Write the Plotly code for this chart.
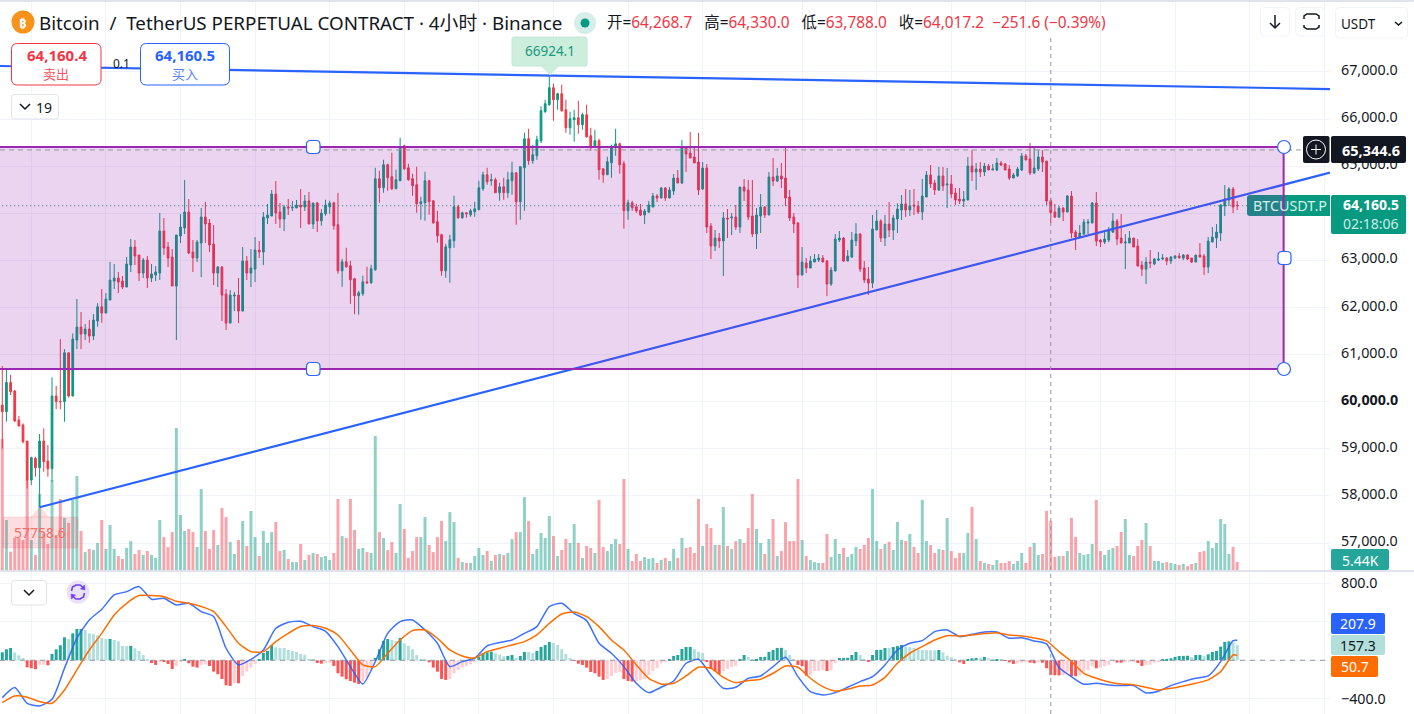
import plotly.graph_objects as go

W, H = 1414, 714

open_p = [
    59890, 59750, 60370, 60190, 59573, 59466, 59126, 58298, 58758, 58560, 59126, 58702, 58539, 60082, 59970, 59962, 61001, 60082, 61270, 61546,
    61398, 61504, 61355, 61674, 61978, 61844, 62120, 62523, 62587, 62523, 62396, 62863, 63245, 63076, 62693, 62970, 62587, 62651, 62693, 63585,
    63245, 63033, 62417, 63479, 63649, 63989, 63139, 63012, 63330, 63883, 63755, 63309, 62693, 62821, 62247, 61631, 62205, 62226, 61886, 62948,
    62693, 62778, 63182, 63139, 63861, 63904, 64371, 63989, 63840, 64095, 64074, 64074, 64138, 64095, 64223, 63734, 64180, 63803, 63951, 64100,
    64185, 63718, 62741, 62932, 62847, 62571, 62210, 62252, 62507, 62486, 62762, 64695, 64504, 64992, 64737, 64482, 64652, 65396, 64928, 64695,
    64567, 64164, 64185, 64652, 64228, 63782, 63505, 62741, 63229, 63378, 64100, 63866, 63973, 63930, 63994, 64036, 64482, 64780, 64652, 64674,
    64397, 64525, 64397, 64652, 64822, 64206, 64928, 65544, 65077, 65183, 65502, 66118, 66267, 66628, 66373, 66500, 66160, 65778, 65948, 65990,
    65842, 66054, 65608, 65374, 65502, 64907, 64780, 65035, 65374, 65438, 65013, 64015, 64185, 64100, 64031, 63925, 63989, 64095, 64329, 64286,
    64499, 64286, 64435, 64711, 64605, 65348, 65242, 65157, 65051, 64478, 64923, 63692, 63267, 63437, 63373, 63861, 63861, 63883, 63670, 64520,
    64456, 63904, 63522, 63904, 64095, 63925, 64732, 64647, 64754, 64711, 64307, 63883, 63755, 62651, 62906, 62800, 62927, 62970, 63012, 62948,
    62460, 62736, 63394, 63437, 62948, 63033, 63373, 63522, 62800, 62566, 62481, 63607, 63798, 63437, 63734, 63607, 63840, 64031, 64159, 64031,
    64138, 64116, 63989, 64307, 64775, 64605, 64456, 64754, 64562, 64584, 64393, 64265, 64222, 64243, 64965, 64838, 64902, 64838, 64965, 64880,
    64880, 65029, 65008, 64902, 64710, 64753, 64880, 65178, 65114, 64817, 64902, 65157, 65071, 64268.7, 63988, 63882, 64073, 63988, 64328, 63563,
    63457, 63521, 63755, 63755, 64180, 63393, 63351, 63393, 63563, 63797, 63436, 63330, 63330, 63436, 63266, 62862, 62777, 62926, 62884, 62969,
    62990, 63011, 62947, 63011, 63054, 63011, 63075, 63011, 62926, 63075, 63054, 62820, 63351, 63436, 63542, 64116, 64243, 64477, 64130,
]
high_p = [
    60720, 60640, 60530, 60210, 59658, 59502, 59126, 58794, 58794, 59275, 59396, 59042, 60479, 60295, 61291, 61079, 61001, 61412, 62141, 61865,
    61610, 61695, 61822, 62056, 62353, 62268, 62927, 62884, 62715, 62630, 63033, 63415, 63394, 63076, 63012, 63054, 62884, 62842, 63968, 63861,
    63352, 63203, 63500, 63946, 64669, 64265, 63394, 63394, 64074, 64201, 63840, 63713, 62842, 62842, 62353, 62332, 62290, 62587, 63245, 63054,
    63203, 63458, 63373, 63989, 64159, 64456, 64647, 64180, 64138, 64265, 64223, 64244, 64477, 64350, 64414, 64180, 64201, 64051, 64249, 64228,
    64206, 64397, 62996, 63229, 62953, 62592, 62316, 62634, 62826, 62868, 64928, 64865, 65098, 65013, 65247, 64886, 65566, 65417, 65013, 64801,
    64950, 64312, 64844, 64674, 64228, 64015, 63527, 63314, 63505, 64334, 64143, 63994, 63973, 64058, 64206, 64652, 64844, 64928, 64801, 64716,
    64610, 64716, 64844, 65056, 64822, 64950, 65672, 65757, 65417, 65608, 66231, 66373, 66924.1, 66713, 66521, 66691, 66373, 66118, 66160, 66352,
    66097, 66267, 65778, 65736, 65544, 64907, 65162, 65417, 65757, 65459, 65077, 64249, 64228, 64164, 64159, 64053, 64223, 64393, 64371, 64520,
    64520, 64520, 64796, 64881, 65518, 65348, 65688, 65348, 65667, 65051, 65008, 63755, 63607, 63543, 63989, 64053, 63968, 64138, 64520, 64690,
    64669, 64669, 64074, 64371, 64116, 64839, 65136, 64923, 65030, 65348, 64456, 63968, 63776, 63246, 63012, 63054, 63097, 63097, 63076, 62970,
    62821, 63522, 63585, 63458, 63182, 63564, 63755, 63543, 62948, 62821, 63925, 64031, 63834, 63925, 64201, 63925, 64173, 64350, 64477, 64456,
    64477, 64223, 64690, 64860, 64987, 64669, 64945, 64945, 64923, 64775, 64499, 64499, 64434, 65157, 65305, 65029, 65050, 65029, 65008, 65008,
    65135, 65071, 65029, 64987, 64817, 64944, 65241, 65220, 65454, 65348, 65305, 65305, 65071, 64330, 64158, 64116, 64095, 64349, 64434, 63606,
    63712, 63840, 63840, 64201, 64413, 63415, 63585, 63670, 63967, 63840, 63946, 63521, 63585, 63436, 63415, 62947, 63032, 63181, 63011, 63139,
    63096, 63032, 63054, 63075, 63117, 63096, 63096, 63011, 63075, 63330, 63096, 63457, 63670, 63733, 64158, 64562, 64519, 64519, 64222,
]
low_p = [
    58970, 59537, 60104, 59537, 59445, 59077, 58121, 58192, 58369, 57758.6, 58475, 58369, 58263, 59806, 59800, 59537, 60047, 60082, 61079, 61079,
    61270, 61214, 61270, 61553, 61638, 61844, 62120, 62353, 62268, 62353, 62396, 62715, 62863, 62523, 62587, 62375, 62502, 62523, 62545, 63076,
    62821, 62417, 61270, 63330, 63521, 63097, 62715, 62927, 62608, 63330, 63139, 62438, 62396, 61674, 61483, 61631, 61886, 61631, 61886, 62545,
    62396, 62502, 63012, 62863, 63734, 63904, 63734, 63649, 63585, 63925, 64010, 64074, 63649, 64010, 63734, 63628, 63564, 63697, 63909, 63951,
    63612, 62677, 62401, 62804, 62040, 61820, 61810, 62210, 62465, 62465, 62741, 64185, 64397, 64440, 64461, 64482, 64652, 64886, 64652, 64334,
    63973, 63824, 63803, 63930, 63739, 63336, 62634, 62592, 62486, 63229, 63845, 63845, 63866, 63888, 63888, 64036, 64440, 64567, 64546, 64397,
    64228, 64249, 64291, 64355, 63718, 63824, 64015, 64992, 65013, 65098, 65452, 66097, 66245, 65927, 66160, 66118, 65672, 65629, 65481, 65651,
    65736, 65566, 65290, 65374, 64674, 64610, 64780, 64716, 65183, 64801, 63633, 63824, 64015, 63973, 63904, 63734, 63968, 64095, 64201, 64286,
    64223, 64286, 64350, 64605, 64584, 64839, 65136, 65030, 64350, 64456, 63543, 62991, 63161, 63224, 62630, 63437, 63500, 63607, 63543, 64223,
    63819, 63458, 63203, 63543, 63862, 63925, 64541, 64626, 64499, 64116, 63798, 63543, 62375, 62651, 62693, 62800, 62927, 62927, 62927, 62205,
    62417, 62736, 63352, 62927, 62948, 63012, 63267, 62715, 62481, 62226, 62375, 63607, 63352, 63267, 63458, 63394, 63543, 63819, 63883, 63904,
    63925, 63946, 63819, 64307, 64499, 64350, 64435, 64435, 64074, 64286, 64138, 64159, 64095, 64243, 64647, 64456, 64732, 64753, 64880, 64880,
    64859, 64965, 64880, 64668, 64710, 64732, 64859, 65093, 64774, 64795, 64859, 64838, 64137, 63788, 63861, 63861, 63797, 63988, 63436, 63181,
    63436, 63500, 63521, 63755, 63266, 63245, 63309, 63351, 63542, 63287, 63330, 62778, 63330, 63245, 62841, 62629, 62459, 62799, 62862, 62947,
    62969, 62862, 62884, 62990, 63011, 62969, 62969, 62905, 62926, 63032, 62650, 62693, 63351, 63224, 63372, 63903, 64116, 63967, 64030,
]
close_p = [
    59750, 60370, 60174, 59551, 59445, 59112, 58298, 58773, 58560, 59126, 58688, 58539, 60082, 59962, 59962, 61001, 60082, 61291, 61546, 61398,
    61504, 61355, 61695, 61978, 61844, 62141, 62545, 62587, 62502, 62396, 62884, 63245, 63054, 62693, 62970, 62587, 62672, 62715, 63585, 63224,
    63012, 62417, 63500, 63670, 63989, 63118, 63012, 63352, 63883, 63734, 63288, 62693, 62821, 62226, 61631, 62226, 62226, 61886, 62948, 62693,
    62800, 63182, 63139, 63883, 63925, 64371, 63968, 63840, 64095, 64074, 64088, 64138, 64095, 64223, 63734, 64180, 63798, 63966, 64136, 64178,
    63697, 62741, 62932, 62826, 62550, 62210, 62273, 62507, 62486, 62783, 64695, 64504, 64992, 64716, 64482, 64674, 65374, 64907, 64674, 64546,
    64164, 64206, 64652, 64206, 63760, 63484, 62741, 63250, 63399, 64100, 63866, 63973, 63951, 64015, 64058, 64504, 64780, 64631, 64674, 64397,
    64525, 64397, 64674, 64822, 64206, 64950, 65544, 65077, 65205, 65523, 66139, 66288, 66628, 66373, 66500, 66139, 65778, 65969, 65990, 65842,
    66054, 65587, 65374, 65502, 64886, 64780, 65056, 65374, 65438, 64992, 64015, 64185, 64079, 64015, 63925, 64010, 64138, 64329, 64286, 64499,
    64286, 64456, 64711, 64605, 65370, 65221, 65136, 65030, 64456, 64923, 63670, 63267, 63437, 63373, 63861, 63840, 63883, 63670, 64520, 64435,
    63883, 63522, 63925, 64095, 63925, 64732, 64647, 64754, 64690, 64286, 63861, 63734, 62651, 62927, 62800, 62948, 62991, 63012, 62927, 62460,
    62757, 63416, 63437, 62948, 63054, 63394, 63522, 62778, 62545, 62481, 63628, 63798, 63437, 63734, 63607, 63861, 64053, 64159, 64031, 64116,
    64116, 63989, 64329, 64775, 64584, 64456, 64754, 64541, 64584, 64371, 64244, 64223, 64264, 64965, 64838, 64902, 64838, 64965, 64880, 64902,
    65029, 64987, 64880, 64710, 64774, 64902, 65178, 65093, 64817, 64923, 65157, 65050, 64222, 64017.2, 63882, 64073, 63988, 64328, 63542, 63457,
    63542, 63776, 63776, 64180, 63372, 63351, 63415, 63606, 63797, 63415, 63330, 63351, 63436, 63245, 62841, 62777, 62926, 62905, 62990, 62990,
    63011, 62947, 63032, 63054, 63011, 63075, 62990, 62926, 63075, 63032, 62820, 63372, 63457, 63563, 64137, 64264, 64477, 64095, 64160.5,
]
volume_k = [
    89.1, 34, 12.5, 21.8, 21.8, 20.4, 61.2, 20.4, 10.2, 51.7, 24.9, 17.7, 61.2, 23.8, 48.3, 35.4, 32, 47.6, 63.9, 26.5,
    12.2, 14.3, 13.6, 18.4, 34, 14.3, 30.6, 14.3, 9.5, 7.5, 15, 19.7, 10.9, 13.6, 10.2, 12.9, 10.2, 8.2, 34, 22.4,
    15.6, 25.8, 96.6, 37.4, 26.5, 27.9, 25.8, 15.6, 55.1, 26.5, 14.3, 27.2, 17, 42.2, 36, 19, 10.9, 20.4, 33.3, 16.3,
    40.1, 22.4, 9.5, 26.5, 18.4, 25.8, 32.6, 12.9, 13.6, 7.5, 5.4, 5.4, 17.7, 6.8, 10.2, 11.6, 10.9,
    8.8, 9.5, 6.8, 11.6, 48.3, 23.1, 21.8, 48.3, 27.2, 14.3, 15, 12.2, 11.6, 91.1, 25.8, 21.8, 13.6, 19, 11.6, 44.9,
    27.9, 8.2, 12.9, 22.4, 22.4, 36, 17, 12.2, 22.4, 33.3, 19.7, 39.4, 32.6, 8.2, 5.4, 4.8, 4.8, 9.5, 15, 10.2,
    12.9, 6.1, 10.2, 10.9, 10.2, 11.6, 21.1, 25.8, 25.8, 49.6, 33.3, 10.9, 14.3, 25.2, 21.8, 36.7, 23.1, 9.5, 13.6, 21.1,
    18.4, 31.3, 18.4, 8.2, 16.3, 15, 11.6, 47.6, 15.6, 12.9, 17.7, 21.1, 17.7, 61.9, 14.3, 6.1, 10.9, 6.1, 8.8, 7.5,
    8.2, 4.8, 6.8, 8.2, 6.1, 14.3, 8.2, 21.8, 15, 15.6, 11.6, 48.3, 16.3, 31.3, 28.6, 17, 17, 42.8, 16.3, 14.3,
    19.7, 21.1, 18.4, 28.6, 51.7, 27.9, 18.4, 10.9, 21.1, 34.7, 9.5, 12.9, 32.6, 19.7, 19.7, 61.9,
    20.4, 9.5, 6.8, 5.4, 4.8, 4.8, 24.5, 8.9, 21.1, 10.9, 15, 8.9, 10.9, 15.7, 14.3, 17, 21.8, 55.2, 19.7, 14.3,
    17.7, 19.1, 13.6, 32.7, 20.4, 19.7, 24.5, 15.7, 11.6, 47.7, 19.7, 17, 11.6, 14.3, 13.6, 35.4, 12.9, 8.2, 11.6, 11.6,
    25.2, 42.9, 21.1, 6.1, 4.8, 4.1, 3.4, 6.8, 4.8, 4.8, 6.1, 4.1, 6.1, 11.6, 4.8, 15.7, 18.4, 10.2, 10.9, 40.2,
    33.4, 8.9, 9.5, 9.5, 12.9, 35.4, 22.5, 11.6, 10.2, 10.9, 17.7, 47.7, 12.9, 10.2, 13.6, 15, 16.3, 25.9, 34.7, 10.2,
    9.5, 16.3, 20.4, 32, 16.3, 6.1, 6.1, 4.8, 5.4, 4.8, 4.1, 3.4, 4.1, 2.7, 4.1, 4.8, 12.3, 12.9, 19.7, 15,
    18.4, 34.7, 31.3, 10.9, 15.7, 5.44,
]
macd_hist = [
    83, 114, 128, 83, 52, 24, -73, -83, -93, -48, -46, -52, 66, 114, 156, 239, 221, 280, 325, 326,
    315, 280, 273, 260, 232, 221, 222, 211, 197, 149, 148, 150, 125, 97, 55, 10, -28, -48, -10, -14,
    -38, -90, -59, -17, 14, -31, -66, -76, -48, -42, -59, -118, -145, -194, -260, -266, -235, -239, -163, -118,
    -76, -38, 3, 76, 97, 156, 135, 128, 127, 107, 97, 87, 66, 55, 14, 3, -28, -35, -28, -26,
    -59, -135, -170, -197, -215, -232, -246, -221, -187, -100, 24, 114, 201, 221, 211, 201, 232, 176, 149, 114,
    55, 14, 13, -21, -76, -118, -194, -204, -194, -135, -100, -76, -59, -42, -21, 38,
    73, 83, 90, 73, 59, 42, 45, 55, 24, 45, 87, 86, 76, 97, 138, 159, 190, 180, 159, 118,
    66, 24, -3, -35, -48, -76, -121, -135, -170, -204, -194, -163, -131, -125, -194, -215, -221, -215, -208, -194,
    -152, -111, -80, -31, -14, 10, 45, 55, 118, 138, 139, 118, 87, 76, -17, -90, -114, -142, -111, -90,
    -69, -59, 14, 55, 35, 3, 14, 35, 36, 87, 107, 128, 129, 107, 55, 14, -48, -62, -160, -152,
    -111, -110, -100, -111, -100, -31, 24, 25, 26, 55, 87, 55, 14, -17, 55, 107, 108, 128, 127, 138,
    149, 159, 138, 135, 128, 114, 107, 106, 105, 104, 107,
    83, 48, 31, 10, -21, -38, 3, 21, 24, 23, 35, 21, 10, 11, 9, -3, -21, -38, -31, -24,
    -14, -24, -31, -21, -25, -83, -152, -156, -157, -155, -118, -163, -165, -156, -114, -100, -59, -83, -76, -62,
    -48, -7, -24, -25, -12, -11, -10, -28, -59, -48, -47, -24, -14, 3, 14, 21, 35, 45, 46, 47,
    35, 55, 56, 45, 62, 87, 97, 142, 190, 197, 187, 157.3,
]
macd_line = [
    -388, -284, -447, -474, -405, -83, 229, 419, 530, 679, 713, 765, 634, 644, 575, 592, 506, 454, 125, -48,
    10, 107, 332, 395, 405, 350, 301, 142, -66, -246, -14, 280, 402, 419, 315, 177, -66, -14, 21, 149,
    184, 211, 280, 350, 558, 592, 488, 412, 177, 73, -66, -239, -336, -280, -215, -31, 10, -152, -291, -280,
    -187, -163, -66, 31, -170, -326, -360, -336, -280, -222, -170, -48, 107, 177, 204, 298, 315, 246, 270, 294,
    294, 229, 235, 201, 170, -76, -170, -249, -239, -256, -263, -263, -339, -322, -263, -222, -187, -163, -14, 204,
    207.9,
]
signal_line = [
    -440, -371, -384, -429, -447, -308, -100, 107, 280, 471, 592, 672, 672, 661, 613, 592, 558, 506, 350, 177,
    90, 90, 194, 280, 350, 360, 332, 263, 107, -48, -66, 73, 211, 308, 315, 229, 107, 45, 24, 90,
    125, 159, 194, 263, 384, 481, 502, 454, 350, 211, 107, -48, -187, -246, -239, -163, -73, -83, -177, -232,
    -211, -197, -135, -59, -73, -187, -274, -319, -301, -267, -256, -177, -31, 73, 142, 211, 256, 253, 263, 277,
    287, 263, 253, 232, 201, 90, -14, -135, -187, -225, -246, -253, -280, -308, -291, -267, -239, -204, -118, 55,
    50.7,
]
macd_index = list(range(0, 298, 3)) + [298]

price_ticks = [57000, 58000, 59000, 60000, 61000, 62000, 63000, 64000, 65000, 66000, 67000]
price_labels = ['57,000.0', '58,000.0', '59,000.0', '<b>60,000.0</b>', '61,000.0', '62,000.0', '63,000.0', '64,000.0', '65,000.0', '66,000.0', '67,000.0']
macd_ticks = [-400, 0, 400, 800]
macd_labels = ['−400.0', '', '', '800.0']
time_ticks = [7, 25, 43, 61, 79, 97, 115, 133, 151, 169, 193, 211, 229, 247, 265, 283, 301, 319]

UP = '#089981'
DOWN = '#f23645'
BLUE = '#2962ff'
GRID = '#f0f3fa'
TEXT = '#131722'
FONT = 'Noto Sans, Noto Sans CJK SC, sans-serif'

# prices above were read against a scale sitting 38 too low
READ_OFFSET = 38
open_p = [p + READ_OFFSET for p in open_p]
high_p = [p + READ_OFFSET for p in high_p]
low_p = [p + READ_OFFSET for p in low_p]
close_p = [p + READ_OFFSET for p in close_p]
# these are printed on the chart, so keep them exact
open_p[253], high_p[253], low_p[253], close_p[253] = 64268.7, 64330.0, 63788.0, 64017.2
high_p[132] = 66924.1
low_p[9] = 57758.6
close_p[298] = 64160.5

idx = list(range(len(open_p)))


def fx(x):
    return x / W


def fy(y):
    return 1 - y / H


def rrect(x0, y0, x1, y1, r, fill, line=None, lw=1, corners='tl tr br bl'):
    # rounded box in page pixels
    tl = r if 'tl' in corners else 0
    tr = r if 'tr' in corners else 0
    br = r if 'br' in corners else 0
    bl = r if 'bl' in corners else 0
    path = (f'M {fx(x0 + tl)},{fy(y0)} L {fx(x1 - tr)},{fy(y0)} Q {fx(x1)},{fy(y0)} {fx(x1)},{fy(y0 + tr)} '
            f'L {fx(x1)},{fy(y1 - br)} Q {fx(x1)},{fy(y1)} {fx(x1 - br)},{fy(y1)} '
            f'L {fx(x0 + bl)},{fy(y1)} Q {fx(x0)},{fy(y1)} {fx(x0)},{fy(y1 - bl)} '
            f'L {fx(x0)},{fy(y0 + tl)} Q {fx(x0)},{fy(y0)} {fx(x0 + tl)},{fy(y0)} Z')
    return dict(type='path', path=path, xref='paper', yref='paper', fillcolor=fill, layer='above',
                line=dict(color=line if line else fill, width=lw if line else 0))


def poly(points, color, lw=1.5, fill=None):
    path = 'M ' + ' L '.join(f'{fx(x)},{fy(y)}' for x, y in points)
    if fill:
        path += ' Z'
    return dict(type='path', path=path, xref='paper', yref='paper', layer='above',
                fillcolor=fill if fill else 'rgba(0,0,0,0)', line=dict(color=color, width=lw))


def circle(cx, cy, r, fill, line=None, lw=1):
    return dict(type='circle', xref='paper', yref='paper', x0=fx(cx - r), x1=fx(cx + r), y0=fy(cy + r), y1=fy(cy - r),
                layer='above', fillcolor=fill, line=dict(color=line if line else fill, width=lw if line else 0))


def label(x, y, text, size=14, color=TEXT, anchor='left'):
    return dict(xref='paper', yref='paper', x=fx(x), y=fy(y), text=text, showarrow=False, xanchor=anchor, yanchor='middle',
                font=dict(size=size, color=color, family=FONT), borderpad=0)


fig = go.Figure()

vol_colors = ['rgba(8,153,129,0.45)' if c >= o else 'rgba(242,54,69,0.45)' for o, c in zip(open_p, close_p)]
fig.add_trace(go.Bar(x=idx, y=volume_k, marker=dict(color=vol_colors, line_width=0), width=0.72, xaxis='x', yaxis='y'))

fig.add_trace(go.Candlestick(
    x=idx, open=open_p, high=high_p, low=low_p, close=close_p, xaxis='x', yaxis='y2', whiskerwidth=0,
    increasing=dict(line=dict(color=UP, width=1), fillcolor=UP),
    decreasing=dict(line=dict(color=DOWN, width=1), fillcolor=DOWN),
))

hist_colors = []
for i, v in enumerate(macd_hist):
    prev = macd_hist[i - 1] if i else v
    if v >= 0:
        hist_colors.append('#26a69a' if v >= prev else '#b2dfdb')
    else:
        hist_colors.append('#ff5252' if v < prev else '#ffcdd2')
fig.add_trace(go.Bar(x=list(range(len(macd_hist))), y=macd_hist, marker=dict(color=hist_colors, line_width=0), width=0.72,
                     xaxis='x2', yaxis='y3'))
fig.add_trace(go.Scatter(x=macd_index, y=macd_line, mode='lines', line=dict(color=BLUE, width=1.5, shape='spline', smoothing=0.6),
                         opacity=0.9, xaxis='x2', yaxis='y3'))
fig.add_trace(go.Scatter(x=macd_index, y=signal_line, mode='lines', line=dict(color='#ff6d00', width=1.5, shape='spline', smoothing=0.6),
                         xaxis='x2', yaxis='y3'))

shapes = [
    # price line, trend lines and the symbol tag sit under the range box
    dict(type='line', xref='x', yref='y2', x0=-1, x1=321, y0=64160.5, y1=64160.5, layer='above', line=dict(color=UP, width=1, dash='1px,3px')),
    dict(type='line', xref='x', yref='y2', x0=-0.55, x1=320.4, y0=67127, y1=66638, layer='above', line=dict(color=BLUE, width=2.2)),
    dict(type='line', xref='x', yref='y2', x0=9, x1=320.4, y0=57758.6, y1=64862, layer='above', line=dict(color=BLUE, width=2.2)),
    rrect(1247, 195, 1330, 216, 3, UP, corners='tl bl'),
    dict(type='rect', xref='x', yref='y2', x0=-5, x1=309.2, y0=60694, y1=65407, layer='above', fillcolor='rgba(156,39,176,0.2)',
         line=dict(color='#9c27b0', width=2)),
    dict(type='line', xref='paper', yref='y2', x0=0, x1=fx(1304), y0=65344.6, y1=65344.6, layer='above', line=dict(color='#9598a1', width=1, dash='5px,4px')),
    dict(type='line', xref='x', yref='paper', x0=253, x1=253, y0=0, y1=fy(38), layer='above', line=dict(color='#9598a1', width=1, dash='4px,4px')),
    dict(type='line', xref='paper', yref='y3', x0=0, x1=fx(1330), y0=0, y1=0, layer='above', line=dict(color='#9598a1', width=1, dash='5px,5px')),
    circle(1284, 147, 6.5, 'white', BLUE, 1.2),
    circle(1284, 369, 6.5, 'white', BLUE, 1.2),
    rrect(306.5, 140.5, 320, 153.5, 4, 'white', BLUE, 1.2),
    rrect(306.5, 362.5, 320, 375.5, 4, 'white', BLUE, 1.2),
    rrect(1278, 251.5, 1291, 264.5, 4, 'white', BLUE, 1.2),
    # pane edges
    dict(type='rect', xref='paper', yref='paper', x0=0, x1=1, y0=fy(2), y1=1, layer='above', fillcolor='#e0e3eb', line_width=0),
    dict(type='rect', xref='paper', yref='paper', x0=0, x1=1, y0=fy(572), y1=fy(570), layer='above', fillcolor='#e0e3eb', line_width=0),
    # header
    circle(23, 22, 11.5, '#f7931a'),
    circle(585, 23, 11, '#d6eee9'),
    circle(585, 23, 4.5, UP),
    # order buttons
    rrect(11.5, 43.5, 101, 85, 6, 'white', DOWN, 1),
    rrect(140.5, 43.5, 229.5, 85, 6, 'white', BLUE, 1),
    rrect(11.5, 94.5, 58.5, 119, 3, 'white', '#e0e3eb', 1),
    poly([(20, 104), (25, 109), (30, 104)], TEXT),
    # high and low tags
    rrect(512, 37, 587, 66, 2, '#cdeedd', '#c0e8d2', 1),
    poly([(541, 66), (559, 66), (550, 75)], '#cdeedd', 0.5, '#cdeedd'),
    rrect(3, 517, 78, 548, 2, 'rgba(242,54,69,0.17)', 'rgba(242,54,69,0.12)', 1),
    poly([(31, 517), (49, 517), (40, 507)], 'rgba(242,54,69,0.12)', 0.5, 'rgba(242,54,69,0.17)'),
    # top right buttons
    rrect(1260.5, 7.5, 1289.5, 36, 4, 'white', GRID, 1),
    poly([(1275, 15), (1275, 28)], TEXT),
    poly([(1270, 23), (1275, 28), (1280, 23)], TEXT),
    rrect(1295.5, 7.5, 1324.5, 36, 4, 'white', GRID, 1),
    poly([(1304, 19), (1304, 16), (1307, 14), (1316, 14), (1319, 16), (1319, 19)], TEXT),
    poly([(1304, 25), (1304, 27), (1307, 29), (1316, 29), (1319, 27), (1319, 25)], TEXT),
    rrect(1335.5, 7.5, 1407.5, 38, 4, 'white', GRID, 1),
    poly([(1395, 22), (1398.5, 25), (1402, 22)], TEXT),
    # right scale tags
    rrect(1303, 136, 1329.5, 163, 2, TEXT),
    circle(1316, 149.5, 9.5, TEXT, 'white', 1),
    poly([(1311, 149.5), (1321, 149.5)], 'white', 1),
    poly([(1316, 144.5), (1316, 154.5)], 'white', 1),
    rrect(1331, 136, 1406, 163, 2, TEXT),
    rrect(1331, 195, 1406, 234, 2, UP),
    rrect(1331, 549, 1389, 570, 2, '#26a69a'),
    rrect(1331, 613, 1385, 634, 2, BLUE),
    rrect(1331, 635, 1385, 655, 2, '#b2dfdb'),
    rrect(1331, 656, 1378, 677, 2, '#ff6d00'),
    # indicator buttons
    rrect(11.5, 580.5, 46.5, 605, 3, 'white', '#e0e3eb', 1),
    poly([(24, 590), (29, 595), (34, 590)], TEXT),
    circle(78, 592, 11.5, '#e9e2f7'),
    poly([(71.5, 591), (72.5, 587), (76, 585), (80, 585), (83, 587.5)], '#6f3ff5', 1.6),
    poly([(84.5, 593), (83.5, 597), (80, 599), (76, 599), (73, 596.5)], '#6f3ff5', 1.6),
    poly([(84.5, 585), (85, 590), (80.5, 589)], '#6f3ff5', 0.5, '#6f3ff5'),
    poly([(71.5, 599), (71, 594), (75.5, 595)], '#6f3ff5', 0.5, '#6f3ff5'),
]

R = '#f23645'
annotations = [
    label(23, 22.5, '<b>₿</b>', 13, 'white', 'center'),
    label(38, 23, 'Bitcoin  /  TetherUS PERPETUAL CONTRACT · 4小时 · Binance', 18.8),
    label(606, 23, f'开=<span style="color:{R}">64,268.7</span>   高=<span style="color:{R}">64,330.0</span>   低=<span style="color:{R}">63,788.0</span>'
                   f'   收=<span style="color:{R}">64,017.2</span>  <span style="color:{R}">−251.6 (−0.39%)</span>', 15.4),
    label(56.5, 55, '<b>64,160.4</b>', 15, DOWN, 'center'),
    label(56, 74, '卖出', 13, '#f7525f', 'center'),
    label(121, 63.5, '0.1', 12, TEXT, 'center'),
    label(185, 55, '<b>64,160.5</b>', 15, BLUE, 'center'),
    label(185, 74, '买入', 13, '#5b7ff5', 'center'),
    label(44, 107, '19', 14, TEXT, 'center'),
    label(549.5, 51, '66924.1', 13.5, '#169a7c', 'center'),
    label(40, 532, '57758.6', 14, '#f4706b', 'center'),
    label(1289.5, 205.5, 'BTCUSDT.P', 14.3, '#d7efeb', 'center'),
    label(1340, 24, 'USDT', 13.5, TEXT),
    label(1370.5, 149.5, '<b>65,344.6</b>', 14.5, 'white', 'center'),
    label(1370.5, 204.5, '<b>64,160.5</b>', 14, 'white', 'center'),
    label(1370.5, 223.5, '02:18:06', 14, '#cdebe6', 'center'),
    label(1360, 560, '5.44K', 14, 'white', 'center'),
    label(1358, 623.5, '207.9', 14, 'white', 'center'),
    label(1358, 645, '157.3', 14, TEXT, 'center'),
    label(1354.5, 666.5, '50.7', 14, 'white', 'center'),
]

x_range = [-0.555, 320.39]
fig.update_layout(
    width=W, height=H, margin=dict(l=0, r=0, t=0, b=0), paper_bgcolor='white', plot_bgcolor='white',
    showlegend=False, hovermode=False, barmode='overlay', boxgap=0.4, font=dict(family=FONT, color=TEXT),
    xaxis=dict(domain=[0, 1330 / W], range=x_range, anchor='y', tickvals=time_ticks, showticklabels=False, ticks='',
               showgrid=True, gridcolor=GRID, gridwidth=1, zeroline=False, rangeslider=dict(visible=False)),
    yaxis=dict(domain=[1 - 570 / H, 1], range=[0, 387.6], visible=False, showgrid=False, zeroline=False),
    yaxis2=dict(domain=[1 - 570 / H, 1], range=[56427, 68528], overlaying='y', anchor='x', side='right', tickvals=price_ticks,
                ticktext=price_labels, ticks='', ticklabelstandoff=10, ticklabelshift=-2, showgrid=True, gridcolor=GRID, gridwidth=1,
                zeroline=False, tickfont=dict(size=14.3, color=TEXT, family=FONT)),
    xaxis2=dict(domain=[0, 1330 / W], range=x_range, anchor='y3', tickvals=time_ticks, showticklabels=False, ticks='',
                showgrid=True, gridcolor=GRID, gridwidth=1, zeroline=False),
    yaxis3=dict(domain=[0, (H - 572) / H], range=[-558, 917], anchor='x2', side='right', tickvals=macd_ticks, ticktext=macd_labels,
                ticks='', ticklabelstandoff=10, showgrid=True, gridcolor=GRID, gridwidth=1, zeroline=False,
                tickfont=dict(size=14.3, color=TEXT, family=FONT)),
    shapes=shapes, annotations=annotations,
)

fig.write_html('out.html', config={'displayModeBar': False}, post_script='document.body.style.margin="0";')
